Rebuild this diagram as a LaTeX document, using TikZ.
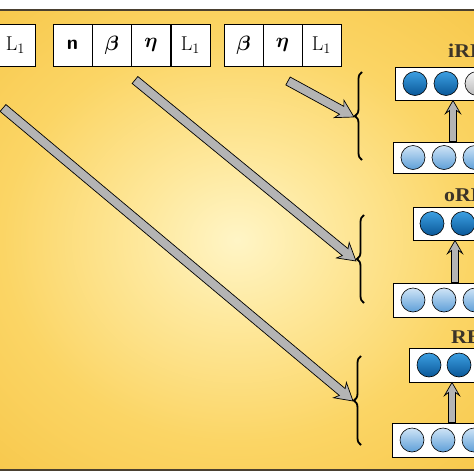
\documentclass[tikz,border=0pt]{standalone}
\usepackage{amsmath,bm}
\usepackage{fontspec}
\newfontfamily\labfont{Liberation Serif}
\usetikzlibrary{calc,decorations.pathreplacing}
\definecolor{bgA}{HTML}{FFF5C6}
\definecolor{bgB}{HTML}{FEE89C}
\definecolor{bgC}{HTML}{FBD565}
\definecolor{bgD}{HTML}{F6C240}
\definecolor{frameC}{HTML}{4A4030}
\definecolor{arrC}{HTML}{B4B4B4}
\definecolor{labC}{HTML}{3C3428}
\definecolor{dkTop}{HTML}{3C9FE2}
\definecolor{dkBot}{HTML}{0A5798}
\definecolor{ltTop}{HTML}{CFE4F6}
\definecolor{ltBot}{HTML}{5E9FD8}
\definecolor{gyTop}{HTML}{F4F4F4}
\definecolor{gyBot}{HTML}{B8B8B8}
\pgfdeclareradialshading{bgshade}{\pgfpoint{0bp}{0bp}}{color(0bp)=(bgA); color(9bp)=(bgB); color(22bp)=(bgC); color(40bp)=(bgD); color(50bp)=(bgD)}
\tikzset{
  cell/.style={draw=black, fill=white, line width=0.8pt, minimum width=39pt, minimum height=42pt, inner sep=0pt, font=\fontsize{20}{24}\selectfont},
  layerbox/.style={draw=black, fill=white, line width=0.9pt, inner sep=0pt, anchor=north west},
  dkunit/.style={circle, draw=black, line width=0.6pt, minimum size=24pt, inner sep=0pt, top color=dkTop, bottom color=dkBot},
  ltunit/.style={circle, draw=black, line width=0.6pt, minimum size=24pt, inner sep=0pt, top color=ltTop, bottom color=ltBot},
  gyunit/.style={circle, draw=black, line width=0.6pt, minimum size=24pt, inner sep=0pt, top color=gyTop, bottom color=gyBot},
  fatarr/.style={draw=black, line width=0.7pt, fill=arrC, line join=miter},
  bracestyle/.style={draw=black, line width=1.8pt, decorate, decoration={brace, amplitude=7pt}},
  lab/.style={font=\labfont\bfseries\fontsize{19.5}{22}\selectfont, text=labC, anchor=base west, inner sep=0pt, xscale=1.12}
}
% fat arrow from #1 to #2, half width #3, head half width #4, head length #5
\newcommand{\fatarrow}[5]{%
  \coordinate (fh) at ($(#2)!#5!(#1)$);
  \coordinate (fb) at ($(#2)!#5+3pt!(#1)$);
  \filldraw[fatarr] ($(#1)!#3!90:(#2)$) -- ($(fh)!#3!90:(#2)$) -- ($(fb)!#4!90:(#2)$) -- (#2)
     -- ($(fb)!#4!-90:(#2)$) -- ($(fh)!#3!-90:(#2)$) -- ($(#1)!#3!-90:(#2)$) -- cycle;
}
\begin{document}
\begin{tikzpicture}[x=1pt,y=-1pt]
\useasboundingbox (0,0) rectangle (474,474);
\clip (0,0) rectangle (474,474);
\fill[white] (0,0) rectangle (474,474);
\shade[shading=bgshade] (-30,10) rectangle (504,470);
\draw[frameC, line width=1.6pt] (-30,10) -- (504,10);
\draw[frameC, line width=1.6pt] (-30,470) -- (504,470);

% hyper-parameter boxes
\node[cell] (g1l) at (15.5,45) {L$_1$};
\node[cell] (g2n) at (72.6,45) {\textsf{\bfseries n}};
\node[cell] (g2b) at (111.9,45) {$\boldsymbol{\beta}$};
\node[cell] (g2e) at (151.1,45) {$\boldsymbol{\eta}$};
\node[cell] (g2l) at (190.4,45) {L$_1$};
\node[cell] (g3b) at (243.5,45) {$\boldsymbol{\beta}$};
\node[cell] (g3e) at (282.5,45) {$\boldsymbol{\eta}$};
\node[cell] (g3l) at (321.5,45) {L$_1$};

% braces
\draw[bracestyle] (362,160) -- coordinate (b1) (362,72);
\draw[bracestyle] (364,303) -- coordinate (b2) (364,215);
\draw[bracestyle] (361,445) -- coordinate (b3) (361,356);

% diagonal arrows
\coordinate (t1) at (288,81);
\coordinate (e1) at (354,117);
\coordinate (t2) at (135,80);
\coordinate (e2) at (356,261);
\coordinate (t3) at (3,108);
\coordinate (e3) at (353,401);
\fatarrow{t1}{e1}{4.5pt}{10pt}{14pt}
\fatarrow{t2}{e2}{4.5pt}{10pt}{14pt}
\fatarrow{t3}{e3}{4.5pt}{10pt}{14pt}

% model labels
\node[lab] (l1) at (448,57) {iRBM};
\node[lab] (l2) at (444,201) {oRBM};
\node[lab] (l3) at (451,343) {RBM};

% layer boxes
\node[layerbox, minimum width=100pt, minimum height=33pt] (h1) at (395,67) {};
\node[layerbox, minimum width=100pt, minimum height=31pt] (v1) at (393,142) {};
\node[layerbox, minimum width=100pt, minimum height=33pt] (h2) at (413,207) {};
\node[layerbox, minimum width=100pt, minimum height=34pt] (v2) at (393,283) {};
\node[layerbox, minimum width=100pt, minimum height=34pt] (h3) at (409,348) {};
\node[layerbox, minimum width=100pt, minimum height=34pt] (v3) at (392,423) {};

% units
\node[dkunit] (h1a) at (415,83.5) {};
\node[dkunit] (h1b) at (446,83.5) {};
\node[gyunit] (h1c) at (477,83.5) {};
\node[ltunit] (v1a) at (413,157.5) {};
\node[ltunit] (v1b) at (444,157.5) {};
\node[ltunit] (v1c) at (475,157.5) {};
\node[dkunit] (h2a) at (432,223.5) {};
\node[dkunit] (h2b) at (463,223.5) {};
\node[ltunit] (v2a) at (413,300) {};
\node[ltunit] (v2b) at (444,300) {};
\node[ltunit] (v2c) at (475,300) {};
\node[dkunit] (h3a) at (429,365) {};
\node[dkunit] (h3b) at (459,365) {};
\node[ltunit] (v3a) at (412,440) {};
\node[ltunit] (v3b) at (443,440) {};
\node[ltunit] (v3c) at (474,440) {};

% up arrows
\coordinate (u1s) at (453,141.5);
\coordinate (u1e) at (453,100.5);
\coordinate (u2s) at (455,282.5);
\coordinate (u2e) at (455,240.5);
\coordinate (u3s) at (452,422.5);
\coordinate (u3e) at (452,382.5);
\fatarrow{u1s}{u1e}{3.5pt}{7.5pt}{10pt}
\fatarrow{u2s}{u2e}{3.5pt}{7.5pt}{10pt}
\fatarrow{u3s}{u3e}{3.5pt}{7.5pt}{10pt}
\end{tikzpicture}
\end{document}
